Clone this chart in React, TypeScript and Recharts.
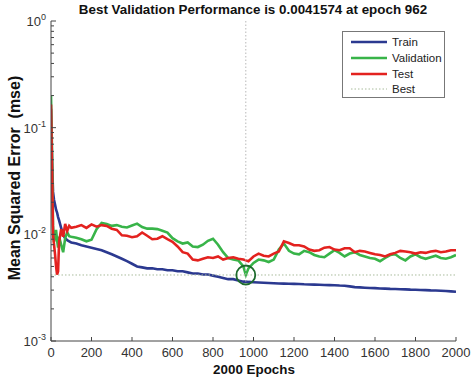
import { LineChart, Line, XAxis, YAxis, ReferenceLine, ReferenceDot } from "recharts";

// epochs sampled along the x axis (denser at the start where curves move fast)
const epochs = [
  0, 5, 10, 15, 20, 25, 30, 35, 40, 50, 60, 70, 80, 90, 100,
  125, 150, 175, 200, 225, 250, 275, 300, 325, 350, 375, 400, 425, 450, 475, 500,
  525, 550, 575, 600, 625, 650, 675, 700, 725, 750, 775, 800, 825, 850, 875, 900, 925, 950,
  962,
  975, 1000, 1025, 1050, 1075, 1100, 1125, 1150, 1175, 1200, 1225, 1250, 1275, 1300, 1325,
  1350, 1375, 1400, 1425, 1450, 1475, 1500, 1525, 1550, 1575, 1600, 1625, 1650, 1675, 1700,
  1725, 1750, 1775, 1800, 1825, 1850, 1875, 1900, 1925, 1950, 1975, 2000,
];

const trainMse = [
  0.15, 0.05, 0.025, 0.021, 0.019, 0.017, 0.016, 0.0145, 0.0135, 0.0115, 0.0098, 0.0092, 0.0088, 0.0086, 0.0084,
  0.0082, 0.0079, 0.0077, 0.0075, 0.0073, 0.0071, 0.0068, 0.0065, 0.0062, 0.0059, 0.0056, 0.0053, 0.005, 0.0049, 0.0048, 0.0048,
  0.0047, 0.0047, 0.0046, 0.0046, 0.0045, 0.0045, 0.0044, 0.0043, 0.0043, 0.0042, 0.0042, 0.0041, 0.004, 0.0039, 0.0038, 0.0038, 0.0037, 0.0036,
  0.0036,
  0.00358, 0.00356, 0.00354, 0.00352, 0.0035, 0.00348, 0.00346, 0.00345, 0.00344, 0.00343, 0.00342, 0.0034, 0.00339, 0.00338, 0.00337,
  0.00335, 0.00334, 0.00333, 0.00331, 0.0033, 0.00325, 0.0032, 0.00318, 0.00316, 0.00314, 0.00313, 0.00311, 0.0031, 0.00308, 0.00307,
  0.00306, 0.00305, 0.00303, 0.00302, 0.00301, 0.003, 0.00298, 0.00297, 0.00296, 0.00294, 0.00292, 0.0029,
];

const validationMse = [
  0.2, 0.06, 0.012, 0.0085, 0.0095, 0.011, 0.0088, 0.0075, 0.0095, 0.008, 0.0068, 0.0092, 0.0105, 0.0096, 0.0095,
  0.0093, 0.009, 0.0086, 0.0089, 0.0112, 0.0128, 0.0125, 0.012, 0.0122, 0.0118, 0.0116, 0.0121, 0.0126, 0.0117, 0.0113, 0.0113,
  0.0112, 0.0108, 0.0104, 0.0092, 0.0086, 0.0082, 0.0084, 0.0077, 0.0076, 0.008, 0.0087, 0.0091, 0.008, 0.0068, 0.006, 0.0058, 0.0057, 0.005,
  0.0041574,
  0.0048, 0.0054, 0.0058, 0.0057, 0.0055, 0.0058, 0.0072, 0.0082, 0.007, 0.0066, 0.0065, 0.007, 0.0068, 0.0064, 0.0062,
  0.0061, 0.0066, 0.0071, 0.0067, 0.0062, 0.0066, 0.0068, 0.0064, 0.0062, 0.006, 0.0059, 0.0056, 0.006, 0.0064, 0.0065,
  0.006, 0.0057, 0.0062, 0.0065, 0.0061, 0.0059, 0.0061, 0.0063, 0.006, 0.0059, 0.0061, 0.0064,
];

const testMse = [
  0.165, 0.04, 0.01, 0.008, 0.0065, 0.005, 0.0042, 0.0045, 0.0085, 0.0112, 0.0095, 0.0125, 0.0108, 0.012, 0.0115,
  0.0118, 0.0122, 0.0115, 0.0124, 0.0118, 0.0122, 0.012, 0.0113, 0.011, 0.0098, 0.0097, 0.0094, 0.0096, 0.0104, 0.0097, 0.009,
  0.0091, 0.0096, 0.009, 0.0085, 0.0077, 0.0068, 0.0066, 0.0058, 0.0057, 0.0059, 0.0061, 0.006, 0.0062, 0.0058, 0.006, 0.0061, 0.0059, 0.0058,
  0.0057,
  0.0056, 0.0062, 0.0066, 0.0063, 0.0062, 0.0066, 0.0069, 0.0086, 0.0083, 0.0079, 0.0079, 0.0077, 0.0072, 0.007, 0.0071,
  0.0075, 0.0076, 0.0072, 0.0071, 0.0074, 0.0074, 0.0068, 0.007, 0.0069, 0.0067, 0.0065, 0.0064, 0.0062, 0.0065, 0.0067,
  0.007, 0.0069, 0.0068, 0.0066, 0.0068, 0.0067, 0.0069, 0.007, 0.0068, 0.0069, 0.0071, 0.0071,
];

const bestEpoch = 962;
const bestPerf = 0.0041574;

const xTicks = [0, 200, 400, 600, 800, 1000, 1200, 1400, 1600, 1800, 2000];
const yMajorTicks = [0.001, 0.01, 0.1, 1];
const yMinorTicks = [
  0.002, 0.003, 0.004, 0.005, 0.006, 0.007, 0.008, 0.009,
  0.02, 0.03, 0.04, 0.05, 0.06, 0.07, 0.08, 0.09,
  0.2, 0.3, 0.4, 0.5, 0.6, 0.7, 0.8, 0.9,
];

const colors = {
  train: "#2b3990",
  validation: "#38b449",
  test: "#e3221f",
  best: "#a9bc9c",
  circle: "#1d6b2c",
  axis: "#444444",
  text: "#333333",
};

const font = '"Liberation Sans", Arial, Helvetica, sans-serif';

const data = epochs.map((e, i) => ({
  epoch: e,
  train: trainMse[i],
  validation: validationMse[i],
  test: testMse[i],
}));

// y ticks: log axis, labels only on decades, ticks pointing inward
const YTick = ({ x, y, payload }: any) => {
  const v = payload.value as number;
  const exp = Math.round(Math.log10(v));
  const major = Math.abs(Math.log10(v) - exp) < 1e-6;
  return (
    <g>
      <line x1={x} x2={x + (major ? 5 : 3)} y1={y} y2={y} stroke={colors.axis} strokeWidth={1} />
      {major && (
        <text x={x - 5} y={y + 5} textAnchor="end" fontSize={13} fill={colors.text} fontFamily={font}>
          10<tspan dy={-6} fontSize={9}>{exp}</tspan>
        </text>
      )}
    </g>
  );
};

const XTick = ({ x, y, payload }: any) => (
  <g>
    <line x1={x} x2={x} y1={y} y2={y - 4} stroke={colors.axis} strokeWidth={1} />
    <text x={x} y={y + 16} textAnchor="middle" fontSize={13} fill={colors.text} fontFamily={font}>
      {payload.value}
    </text>
  </g>
);

const legendItems = [
  { name: "Train", color: colors.train, dashed: false },
  { name: "Validation", color: colors.validation, dashed: false },
  { name: "Test", color: colors.test, dashed: false },
  { name: "Best", color: colors.best, dashed: true },
];

export default function App() {
  return (
    <div style={{ position: "absolute", left: 0, top: 0, width: 474, height: 379, background: "#fff", fontFamily: font }}>
      <LineChart width={474} height={379} data={data} margin={{ top: 21, right: 18, bottom: 8, left: 11 }}>
        <XAxis
          dataKey="epoch"
          type="number"
          domain={[0, 2000]}
          ticks={xTicks}
          interval={0}
          tick={XTick}
          tickLine={false}
          tickSize={0}
          tickMargin={0}
          height={30}
          axisLine={{ stroke: colors.axis }}
          allowDataOverflow
        />
        <YAxis
          scale="log"
          domain={[0.001, 1]}
          ticks={[...yMajorTicks, ...yMinorTicks]}
          interval={0}
          tick={YTick}
          tickLine={false}
          tickSize={0}
          tickMargin={0}
          width={40}
          axisLine={{ stroke: colors.axis }}
          allowDataOverflow
        />
        <Line type="linear" dataKey="train" stroke={colors.train} strokeWidth={2.6} dot={false} isAnimationActive={false} />
        <Line type="linear" dataKey="validation" stroke={colors.validation} strokeWidth={2.6} dot={false} isAnimationActive={false} />
        <Line type="linear" dataKey="test" stroke={colors.test} strokeWidth={2.6} dot={false} isAnimationActive={false} />
        <ReferenceLine y={bestPerf} stroke={colors.best} strokeDasharray="1.5 2" strokeWidth={1} />
        <ReferenceLine x={bestEpoch} stroke="#b8b8b8" strokeDasharray="1.5 2" strokeWidth={1} />
        <ReferenceDot x={bestEpoch} y={bestPerf} r={9.5} fill="none" stroke={colors.circle} strokeWidth={1.8} />
      </LineChart>

      <div style={{ position: "absolute", left: 253, top: 3, transform: "translateX(-50%)", whiteSpace: "nowrap", fontSize: 13.4, fontWeight: "bold", lineHeight: 1, color: "#111" }}>
        Best Validation Performance is 0.0041574 at epoch 962
      </div>
      <div style={{ position: "absolute", left: 254, top: 363, transform: "translateX(-50%)", whiteSpace: "nowrap", fontSize: 13.4, fontWeight: "bold", lineHeight: 1, color: "#111" }}>
        2000 Epochs
      </div>
      <div style={{ position: "absolute", left: 15, top: 178, transform: "translate(-50%, -50%) rotate(-90deg)", whiteSpace: "pre", fontSize: 16, fontWeight: "bold", lineHeight: 1, color: "#111" }}>
        Mean Squared Error  (mse)
      </div>

      <div style={{ position: "absolute", left: 342, top: 31, width: 101, height: 65, border: "1px solid #777", background: "#fff" }}>
        {legendItems.map((it, i) => (
          <div key={it.name} style={{ position: "absolute", left: 8, top: 3 + i * 15.8, height: 14, display: "flex", alignItems: "center", fontSize: 11.5, color: "#222", whiteSpace: "nowrap" }}>
            <svg width={36} height={6} style={{ marginRight: 5 }}>
              <line x1={0} x2={36} y1={3} y2={3} stroke={it.color} strokeWidth={it.dashed ? 1 : 2.6} strokeDasharray={it.dashed ? "1.5 2" : undefined} />
            </svg>
            {it.name}
          </div>
        ))}
      </div>
    </div>
  );
}
